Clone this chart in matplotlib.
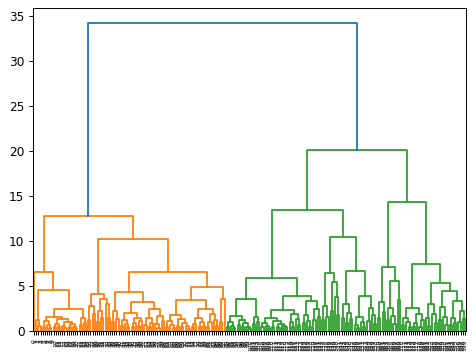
import matplotlib
matplotlib.use("Agg")
import matplotlib.pyplot as plt

# dendrogram: a node is (merge height, left, right), an int is a leaf id
orange_a1 = (6.6, 0,
             (4.55, (1.2, 1, (0.6, 2, 3)),
              (2.4, (1.6, (1.1, (0.5, 4, 5), (0.7, 6, (0.3, 7, 8))),
                     (1.3, (0.8, (0.4, 9, 10), (0.5, 11, 12)),
                      (1.0, (0.6, 13, (0.3, 14, 15)), (0.8, (0.4, 16, 17), (0.5, 18, (0.2, 19, 20)))))),
               (1.5, (0.7, 21, 22), (0.9, 23, 24)))))
orange_a2a = (4.1, (2.8, (1.2, 25, 26), (1.9, 27, 28)),
              (3.6, (2.2, (1.0, 29, 30), (1.5, 31, 32)), (3.0, 33, (1.4, 34, 35))))
orange_a2b_left = (4.3, (2.2, (1.0, 36, 37), (1.3, 38, 39)),
                   (3.2, (2.0, (1.2, (0.6, 40, 41), (0.8, 42, (0.4, 43, 44))),
                          (1.5, (0.9, (0.5, 45, 46), 47), (1.1, (0.6, 48, 49), 50))),
                    (2.5, (1.4, (0.7, 51, 52), (0.9, (0.4, 53, 54), 55)),
                     (1.7, (0.8, 56, (0.3, 57, 58)), (1.1, 59, 60)))))
orange_a2b_right = (4.9, (3.4, (1.8, (1.1, (0.5, 61, 62), (0.7, 63, (0.3, 64, 65))),
                                (1.3, (0.6, 66, 67), (0.9, (0.5, 68, 69), (0.6, 70, (0.2, 71, 72))))),
                          (2.5, (1.5, (0.8, (0.4, 73, 74), 75), (1.0, (0.5, 76, 77), (0.6, 78, 79))),
                           (1.9, (1.0, (0.5, 80, 81), 82), (1.2, 83, (0.6, 84, 85))))),
                    (3.6, (1.0, 86, 87), 88))

green_g1a = (5.85, (3.6, (1.7, (1.0, (0.5, 89, 90), (0.6, 91, (0.3, 92, 93))),
                            (1.2, (0.7, 94, 95), (0.9, (0.4, 96, 97), (0.5, 98, (0.2, 99, 100))))),
                    (1.6, (0.8, 101, 102), (1.0, 103, 104))),
             (3.9, (2.3, (1.4, (0.9, (0.4, 105, 106), (0.6, 107, (0.3, 108, 109))),
                          (1.1, (0.5, 110, 111), (0.8, (0.4, 112, 113), (0.6, (0.3, 114, 115), (0.4, 116, 117))))),
                    (1.9, (1.0, 118, (0.5, 119, 120)), (1.3, 121, (0.7, 122, 123)))),
              (3.3, (1.8, (0.9, 124, 125), (1.1, 126, (0.5, 127, 128))),
               (2.4, (1.2, 129, 130), (1.6, 131, 132)))))
green_g1b = (10.4, (6.5, (2.8, (1.2, 133, 134), (1.6, 135, 136)),
                    (5.4, (2.2, 137, 138), (3.8, 139, (1.8, 140, 141)))),
             (6.7, (3.0, (1.4, 142, 143), (2.0, (0.9, 144, 145), (1.3, 146, 147))),
              (3.9, (1.6, (0.7, 148, (0.3, 149, 150)), (1.0, 151, (0.5, 152, 153))),
               (2.6, (1.1, 154, 155), (1.8, 156, (0.8, 157, 158))))))
green_g2a = (7.1, (3.2, (1.5, 159, 160), (2.1, 161, 162)),
             (5.6, (2.6, (1.2, 163, 164), (1.7, 165, (0.8, 166, 167))), (3.4, 168, 169)))
green_g2b = (7.4, (2.6, (1.5, (0.7, 170, 171), (1.0, 172, (0.4, 173, 174))),
                   (1.9, (0.9, (0.4, 175, 176), 177), (1.2, (0.5, 178, 179), 180))),
             (5.3, (3.0, (1.4, 181, (0.6, 182, 183)), (1.9, 184, (0.9, 185, 186))),
              (4.4, (2.7, (1.2, 187, 188), (1.6, 189, (0.7, 190, 191))),
               (3.3, (1.5, (0.7, 192, 193), (0.9, 194, 195)), (2.2, (1.0, 196, 197), (1.3, 198, 199))))))

orange_heights = [12.8, 10.2, 6.6]   # orange root, A2, A2b
green_heights = [20.1, 13.5, 14.3]   # green root, G1, G2
top_height = 34.2

orange = (orange_heights[0], orange_a1,
          (orange_heights[1], orange_a2a, (orange_heights[2], orange_a2b_left, orange_a2b_right)))
green = (green_heights[0], (green_heights[1], green_g1a, green_g1b),
         (green_heights[2], green_g2a, green_g2b))

fig = plt.figure(figsize=(4.74, 3.59), dpi=100)
ax = fig.add_axes([33 / 474, 28 / 359, 433 / 474, 323 / 359])
for s in ax.spines.values():
    s.set_linewidth(0.7)

order = []
lw = 1.3


def draw(node, color):
    if isinstance(node, int):
        x = 5 + 10 * len(order)
        order.append(node)
        return x, 0.0
    h, left, right = node
    xl, hl = draw(left, color)
    xr, hr = draw(right, color)
    ax.plot([xl, xl, xr, xr], [hl, h, h, hr], color=color, lw=lw)
    return (xl + xr) / 2, h


xo, ho = draw(orange, "#ff7f0e")
xg, hg = draw(green, "#2ca02c")
ax.plot([xo, xo, xg, xg], [ho, top_height, top_height, hg], color="#1f77b4", lw=lw)

n = len(order)
ax.set_xlim(0, 10 * n)
ax.set_ylim(0, top_height * 1.05)
ax.set_xticks([5 + 10 * i for i in range(n)])
ax.set_xticklabels([str(v) for v in order], rotation=90, fontsize=4.3)
ax.set_yticks(range(0, 36, 5))
ax.tick_params(axis="y", labelsize=8.7, length=3.05, width=0.7, pad=3.05)
ax.tick_params(axis="x", length=3.05, width=0.7, pad=3.05)

fig.savefig("out.png", dpi=100)
